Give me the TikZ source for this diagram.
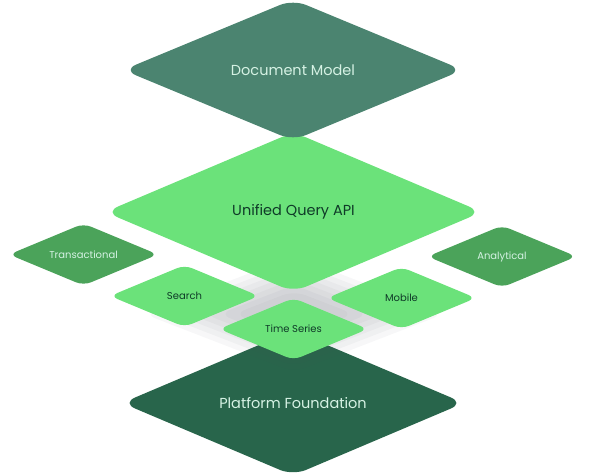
\documentclass[tikz,border=0pt]{standalone}
\usepackage{fontspec}
\setmainfont{Poppins}
\usetikzlibrary{shapes.geometric}
\definecolor{docgreen}{HTML}{4B8470}
\definecolor{apigreen}{HTML}{6BE27A}
\definecolor{sidegreen}{HTML}{4BA35A}
\definecolor{basegreen}{HTML}{28654B}
\definecolor{darktext}{HTML}{0F3B28}
\definecolor{lighttext}{HTML}{D6F2E4}
\definecolor{shadowgrey}{HTML}{4A4E5C}
\begin{document}
\begin{tikzpicture}[x=1pt, y=-1pt,
    plane/.style={diamond, inner sep=0pt, aspect=2.4, rounded corners=14pt, font=\fontsize{14.5}{16}\selectfont},
    tile/.style={diamond, inner sep=0pt, aspect=2.36, rounded corners=8pt, minimum width=149pt, minimum height=62pt, font=\fontsize{10}{12}\selectfont}]
  \useasboundingbox (0,0) rectangle (590,476);
  % bottom layer
  \node[plane, fill=basegreen, text=lighttext, minimum width=342pt, minimum height=145pt] (foundation) at (293,403) {Platform Foundation};
  % soft grey shadow cast by the query layer
  \foreach \s in {1.0,0.9,...,0.3}
    \fill[shadowgrey, opacity=0.045, rounded corners=12pt] (294-150*\s,314) -- (294,314-58*\s) -- (294+150*\s,314) -- (294,314+58*\s) -- cycle;
  % middle and top layers
  \node[plane, fill=apigreen, text=darktext, minimum width=377pt, minimum height=160pt] (api) at (293.5,212) {Unified Query API};
  \node[plane, fill=docgreen, text=lighttext, minimum width=340pt, minimum height=141pt] (docmodel) at (293,70) {Document Model};
  % workload tiles
  \node[tile, fill=sidegreen, text=lighttext] (transactional) at (83.5,254.5) {Transactional};
  \node[tile, fill=sidegreen, text=lighttext] (analytical) at (502,256.5) {Analytical};
  \node[tile, fill=apigreen, text=darktext] (search) at (184.5,296) {Search};
  \node[tile, fill=apigreen, text=darktext] (mobile) at (401.5,298) {Mobile};
  \node[tile, fill=apigreen, text=darktext] (timeseries) at (293.5,329) {Time Series};
\end{tikzpicture}
\end{document}
